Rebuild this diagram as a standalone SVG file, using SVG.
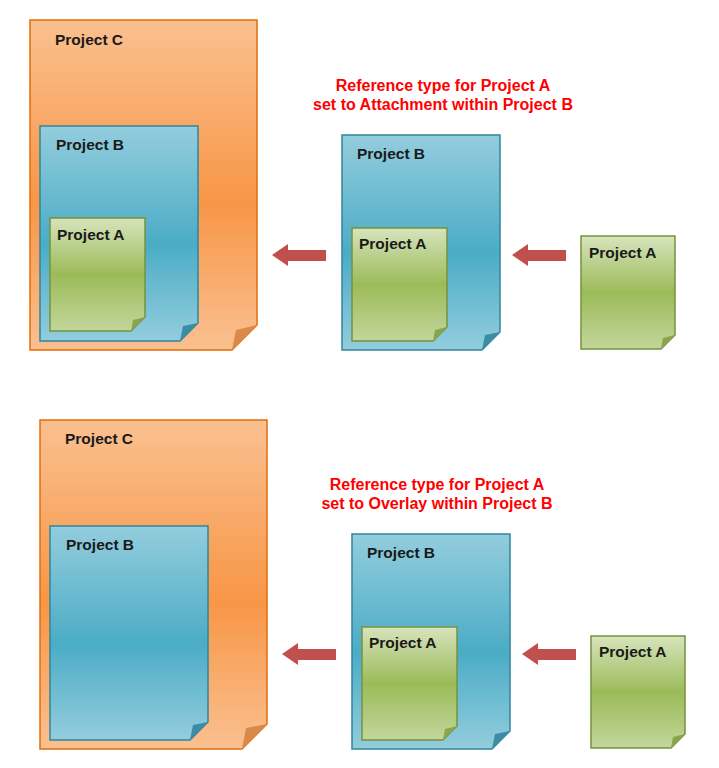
<svg xmlns="http://www.w3.org/2000/svg" width="719" height="768" viewBox="0 0 719 768">
<defs>
<linearGradient id="go" x1="0" y1="0" x2="0" y2="1"><stop offset="0" stop-color="#FAC090"/><stop offset="0.55" stop-color="#F79646"/><stop offset="1" stop-color="#FAC090"/></linearGradient>
<linearGradient id="gb" x1="0" y1="0" x2="0" y2="1"><stop offset="0" stop-color="#93CDDD"/><stop offset="0.55" stop-color="#4BACC6"/><stop offset="1" stop-color="#93CDDD"/></linearGradient>
<linearGradient id="gg" x1="0" y1="0" x2="0" y2="1"><stop offset="0" stop-color="#D7E4BD"/><stop offset="0.5" stop-color="#9BBB59"/><stop offset="1" stop-color="#C3D69B"/></linearGradient>
<style>
.o{fill:url(#go);stroke:#E46C0A;stroke-width:1.5}
.b{fill:url(#gb);stroke:#31859C;stroke-width:1.5}
.g{fill:url(#gg);stroke:#76923C;stroke-width:1.5}
.fo{fill:#D98A4A}.fb{fill:#3A8DA5}.fg{fill:#8AA64C}
.l{font-family:"Liberation Sans",Arial,sans-serif;font-weight:bold;font-size:15.5px;fill:#1a1a1a}
.r{font-family:"Liberation Sans",Arial,sans-serif;font-weight:bold;font-size:16px;fill:#FF0000;text-anchor:middle}
.ar{fill:#C0504D}
</style>
</defs>
<g id="top-c"><path class="o" d="M30 20 H257 V325 L232 350 H30 Z"/><path class="fo" d="M257 325 L232 350 L236 330 Z"/><text class="l" x="55" y="45">Project C</text></g>
<g id="top-c-b"><path class="b" d="M40 126 H198 V323 L180 341 H40 Z"/><path class="fb" d="M198 323 L180 341 L183 326 Z"/><text class="l" x="56" y="150">Project B</text></g>
<g id="top-c-b-a"><path class="g" d="M50 218 H145 V317 L131 331 H50 Z"/><path class="fg" d="M145 317 L131 331 L133 320 Z"/><text class="l" x="57" y="240">Project A</text></g>
<g id="top-b"><path class="b" d="M342 135 H500 V332 L482 350 H342 Z"/><path class="fb" d="M500 332 L482 350 L485 335 Z"/><text class="l" x="357" y="159">Project B</text></g>
<g id="top-b-a"><path class="g" d="M352 228 H447 V327 L433 341 H352 Z"/><path class="fg" d="M447 327 L433 341 L435 330 Z"/><text class="l" x="359" y="249">Project A</text></g>
<g id="top-a"><path class="g" d="M581 236 H675 V335 L661 349 H581 Z"/><path class="fg" d="M675 335 L661 349 L663 338 Z"/><text class="l" x="589" y="258">Project A</text></g>
<g id="top-note"><text class="r" x="443" y="91">Reference type for Project A</text><text class="r" x="443" y="110">set to Attachment within Project B</text></g>
<g id="bot-c"><path class="o" d="M40 420 H267 V724 L242 749 H40 Z"/><path class="fo" d="M267 724 L242 749 L246 728 Z"/><text class="l" x="65" y="444">Project C</text></g>
<g id="bot-c-b"><path class="b" d="M50 526 H208 V722 L190 740 H50 Z"/><path class="fb" d="M208 722 L190 740 L193 725 Z"/><text class="l" x="66" y="550">Project B</text></g>
<g id="bot-b"><path class="b" d="M352 534 H510 V731 L492 749 H352 Z"/><path class="fb" d="M510 731 L492 749 L495 734 Z"/><text class="l" x="367" y="558">Project B</text></g>
<g id="bot-b-a"><path class="g" d="M362 627 H457 V726 L443 740 H362 Z"/><path class="fg" d="M457 726 L443 740 L445 729 Z"/><text class="l" x="369" y="648">Project A</text></g>
<g id="bot-a"><path class="g" d="M591 636 H685 V734 L671 748 H591 Z"/><path class="fg" d="M685 734 L671 748 L673 737 Z"/><text class="l" x="599" y="657">Project A</text></g>
<g id="bot-note"><text class="r" x="437" y="490">Reference type for Project A</text><text class="r" x="437" y="509">set to Overlay within Project B</text></g>
<g id="connectors">
<polygon class="ar" points="272,255 288,244 288,250 326,250 326,261 288,261 288,266"/>
<polygon class="ar" points="512,255 528,244 528,250 566,250 566,261 528,261 528,266"/>
<polygon class="ar" points="282,654 298,643 298,649 336,649 336,660 298,660 298,665"/>
<polygon class="ar" points="522,654 538,643 538,649 576,649 576,660 538,660 538,665"/>
</g>
</svg>
